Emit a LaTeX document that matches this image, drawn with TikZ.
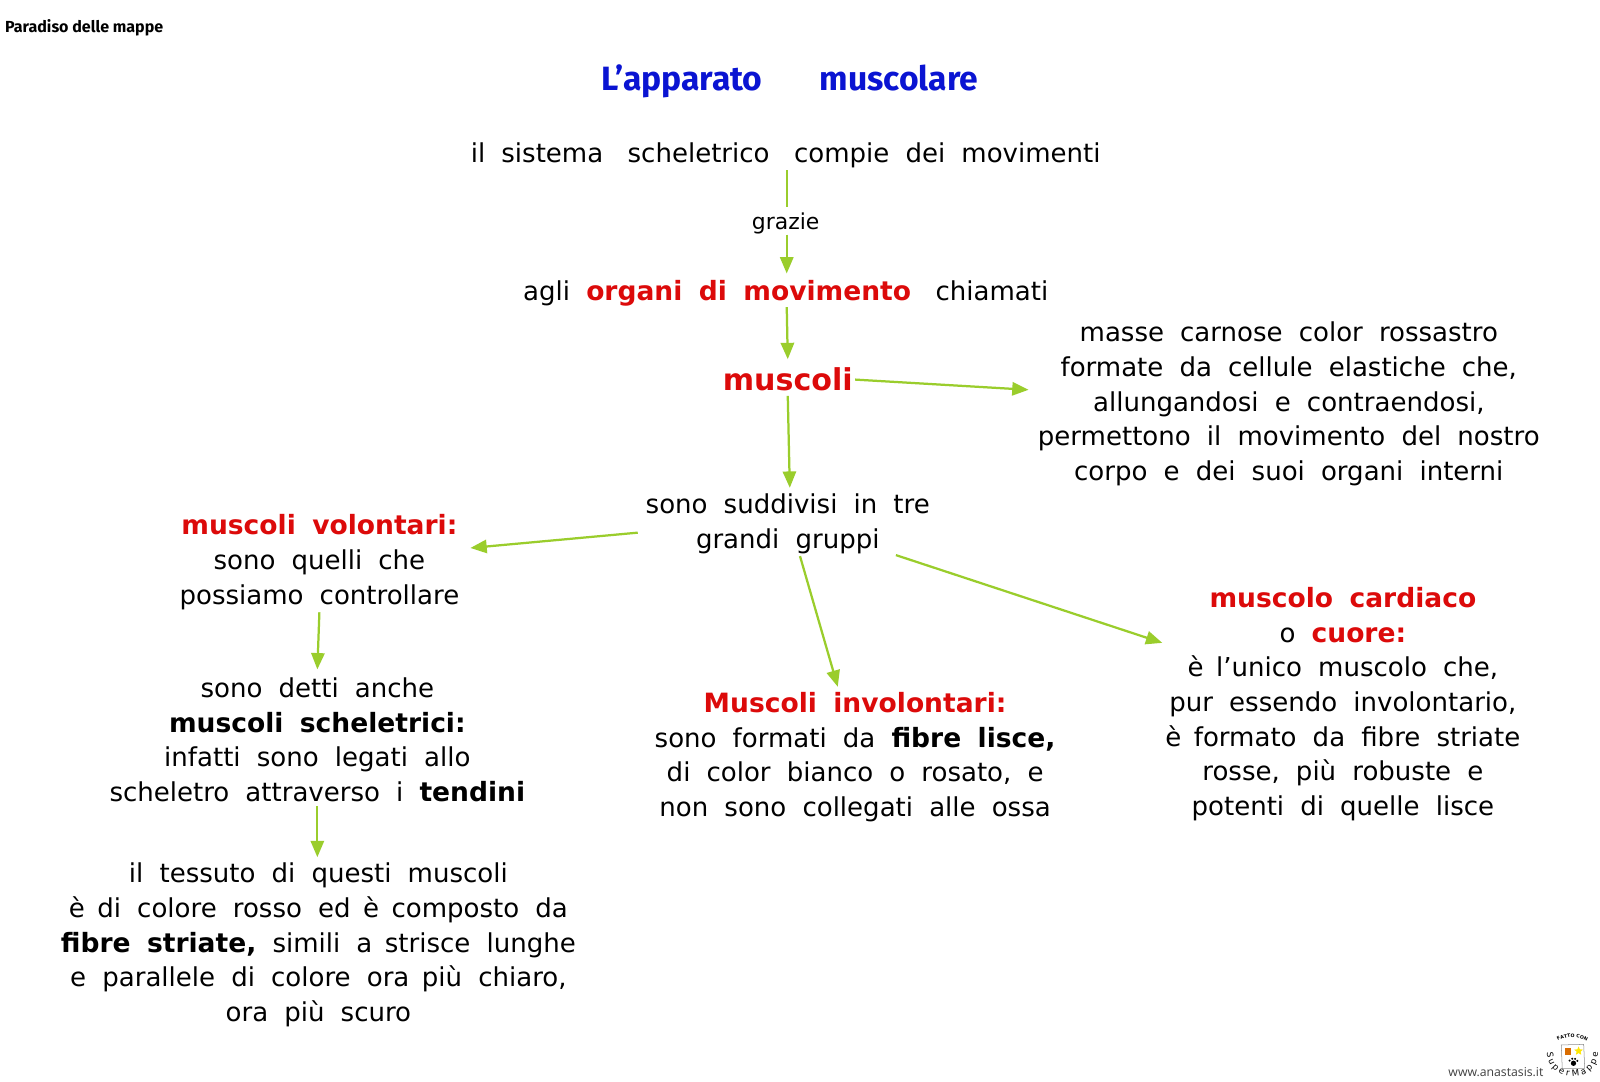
\documentclass[tikz,border=0pt]{standalone}
\usepackage{fontspec}
\setmainfont{DejaVu Sans}
\newfontfamily\comicf{Fira Sans}
\newfontfamily\webf{Open Sans}
\usetikzlibrary{arrows.meta,decorations.text,shapes.geometric}
\definecolor{arrowgreen}{HTML}{9ACD2C}
\definecolor{mapred}{HTML}{DC0A0A}
\definecolor{titleblue}{HTML}{0A14D2}
\newcommand{\bd}[1]{{\fontsize{26}{34}\selectfont\bfseries #1}}
\newcommand{\rd}[1]{\textcolor{mapred}{\bd{#1}}}
\newcommand{\dsp}{\hspace{0.62em}}
\newcommand{\ssp}{\hspace{0.48em}}
\tikzset{
  x=1pt,y=-1pt,
  txt/.style={inner sep=0pt,outer sep=0pt,align=center,font=\fontsize{25.5}{34}\selectfont,text=black},
  conn/.style={draw=arrowgreen,line width=2.2pt},
  arr/.style={conn,-{Triangle[length=16pt,width=13pt]}},
}
\begin{document}
\begin{tikzpicture}
\useasboundingbox[fill=white] (0,0) rectangle (1568,1059.4);
\node[txt,font=\comicf\bfseries\fontsize{15.7}{18}\selectfont] (brand) at (82.5,27) {Paradiso delle mappe};
\node[txt,font=\comicf\bfseries\fontsize{33}{38}\selectfont,text=titleblue] (title) at (774,80) {L’apparato\hspace{56pt}muscolare};
\node[txt] (t1) at (770,152) {il\dsp sistema\dsp\ scheletrico\dsp\ compie\dsp dei\dsp movimenti};
\node[txt,font=\fontsize{21.5}{24}\selectfont] (grazie) at (770,219) {grazie};
\node[txt] (t2) at (770,287) {agli\dsp \rd{organi\dsp di\dsp movimento}\dsp\ chiamati};
\node[txt,font=\bfseries\fontsize{29.5}{36}\selectfont,text=mapred] (musc) at (772,372) {muscoli};
\node[txt] (masse) at (1263,396) {masse\dsp carnose\dsp color\dsp rossastro\\
formate\dsp da\dsp cellule\dsp elastiche\dsp che,\\
allungandosi\dsp e\dsp contraendosi,\\
permettono\dsp il\dsp movimento\dsp del\dsp nostro\\
corpo\dsp e\dsp dei\dsp suoi\dsp organi\dsp interni};
\node[txt] (sudd) at (772,513) {sono\dsp suddivisi\dsp in\dsp tre\\grandi\dsp gruppi};
\node[txt] (vol) at (313,551) {\rd{muscoli\dsp volontari:}\\sono\dsp quelli\dsp che\\possiamo\dsp controllare};
\node[txt] (detti) at (311,725) {sono\dsp detti\dsp anche\\
\bd{muscoli\dsp scheletrici:}\\
infatti\dsp sono\dsp legati\dsp allo\\
scheletro\dsp attraverso\dsp i\dsp \bd{tendini}};
\node[txt] (tess) at (312,926) {il\dsp tessuto\dsp di\dsp questi\dsp muscoli\\
è\ssp di\dsp colore\dsp rosso\dsp ed\ssp è\ssp composto\dsp da\\
\bd{fibre\dsp striate,}\dsp simili\dsp a\ssp strisce\dsp lunghe\\
e\dsp parallele\dsp di\dsp colore\dsp ora\ssp più\dsp chiaro,\\
ora\dsp più\dsp scuro};
\node[txt] (inv) at (838,742) {\rd{Muscoli\dsp involontari:}\\
sono\dsp formati\dsp da\dsp \bd{fibre\dsp lisce,}\\
di\dsp color\dsp bianco\dsp o\dsp rosato,\dsp e\\
non\dsp sono\dsp collegati\dsp alle\dsp ossa};
\node[txt] (card) at (1316,690) {\rd{muscolo\dsp cardiaco}\\
o\dsp \rd{cuore:}\\
è\ssp l’unico\dsp muscolo\dsp che,\\
pur\dsp essendo\dsp involontario,\\
è\ssp formato\dsp da\dsp fibre\dsp striate\\
rosse,\dsp più\dsp robuste\dsp e\\
potenti\dsp di\dsp quelle\dsp lisce};
\node[txt,font=\webf\fontsize{12}{15}\selectfont,text=black!75] (web) at (1466,1051) {www.anastasis.it};
% connectors
\draw[conn] ([shift={(1,15)}]t1.center) -- ([shift={(1,-16)}]grazie.center);
\draw[arr] ([shift={(1,11)}]grazie.center) -- ([shift={(1,-19)}]t2.center);
\draw[arr] ([shift={(1,14)}]t2.center) -- ([shift={(0,-20)}]musc.center);
\draw[arr] ([shift={(66,0)}]musc.center) -- ([shift={(-255,-14)}]masse.center);
\draw[arr] ([shift={(0,16)}]musc.center) -- ([shift={(2,-35)}]sudd.center);
\draw[arr] ([shift={(-147,9)}]sudd.center) -- ([shift={(148,-14)}]vol.center);
\draw[arr] ([shift={(12,32)}]sudd.center) -- ([shift={(-17,-69)}]inv.center);
\draw[arr] ([shift={(106,31)}]sudd.center) -- ([shift={(-177,-60)}]card.center);
\draw[arr] ([shift={(0,49)}]vol.center) -- ([shift={(0,-69)}]detti.center);
\draw[arr] ([shift={(0,65)}]detti.center) -- ([shift={(-1,-86)}]tess.center);
% logo
\begin{scope}[shift={(1541,1033)}]
  \path[draw=black!45,line width=0.5pt,fill=white] (-11,-9) -- (11,-9.5) -- (12,14) -- (-10,14) -- cycle;
  \fill[orange!85!black] (-7,-6) rectangle (-1,1);
  \node[star,star points=5,star point ratio=2.2,fill=yellow!90!orange,inner sep=0pt,minimum size=9pt] (logostar) at (6,-3) {};
  \fill[black] (1,9) circle[radius=2.6pt] (-2.8,6.3) circle[radius=1.1pt] (-0.2,4.6) circle[radius=1.1pt] (2.6,4.8) circle[radius=1.1pt] (4.8,6.6) circle[radius=1.1pt];
  \path[decorate,decoration={text along path,text align=center,text={|\fontsize{4.6}{6}\selectfont\bfseries|FATTO CON}}] (-19,-9) .. controls (-10,-19) and (10,-19) .. (19,-9);
  \path[decorate,decoration={text along path,text align=fit to path,text={|\fontsize{8.5}{10}\selectfont|SuperMappe}}] (-25,-2) .. controls (-25,30) and (25,30) .. (25,-2);
\end{scope}
\end{tikzpicture}
\end{document}
